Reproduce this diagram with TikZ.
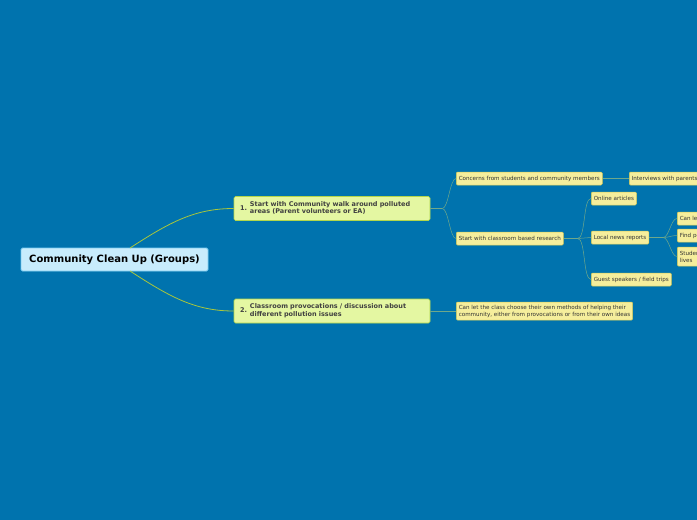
\documentclass[tikz,border=0pt]{standalone}
\usepackage{fontspec}
\setmainfont{DejaVu Sans}
\begin{document}
\begin{tikzpicture}[x=1pt,y=-1pt,
 rootbox/.style={draw=cRootB,fill=cRoot,rounded corners=1.5pt,line width=0.8pt,minimum width=187pt,minimum height=23pt,font=\fontsize{10}{12}\selectfont\bfseries,inner sep=2pt},
 brbox/.style={draw=cBrB,fill=cBr,rounded corners=1.5pt,line width=0.6pt,minimum width=196pt,minimum height=24pt,font=\fontsize{6.5}{7.5}\selectfont\bfseries,text=black!75,inner sep=2pt},
 leaf/.style={draw=cLfB,fill=cLf,rounded corners=1.2pt,line width=0.5pt,minimum height=13pt,font=\fontsize{5.6}{7}\selectfont,text=black!80,inner sep=2.5pt,anchor=west},
 main/.style={draw=cMain,line width=0.8pt},
 sub/.style={draw=cSub,line width=0.5pt}]
\definecolor{cBg}{HTML}{0073AE}
\definecolor{cRoot}{HTML}{C8ECFC}
\definecolor{cRootB}{HTML}{7DCDF2}
\definecolor{cBr}{HTML}{E4F7A2}
\definecolor{cBrB}{HTML}{B3D64A}
\definecolor{cLf}{HTML}{F5EE9C}
\definecolor{cLfB}{HTML}{D6CC58}
\definecolor{cMain}{HTML}{A9C63C}
\definecolor{cSub}{HTML}{6FA88A}
\fill[cBg] (0,0) rectangle (697,520);
\useasboundingbox (0,0) rectangle (697,520);
\clip (0,0) rectangle (697,520);
\node[rootbox] (root) at (114.5,259.5) {Community Clean Up (Groups)};
\node[brbox,align=left,text width=190pt] (b1) at (332,208.5) {\hspace{3pt}1.\hspace{3pt}\begin{tabular}[c]{@{}l@{}}Start with Community walk around polluted\\areas (Parent volunteers or EA)\end{tabular}};
\node[brbox,align=left,text width=190pt] (b2) at (332,311) {\hspace{3pt}2.\hspace{3pt}\begin{tabular}[c]{@{}l@{}}Classroom provocations / discussion about\\different pollution issues\end{tabular}};
\node[leaf] (c1) at (456,178.5) {Concerns from students and community members};
\node[leaf] (c2) at (456,238.5) {Start with classroom based research};
\node[leaf,align=left,minimum height=18pt] (c3) at (456,311) {Can let the class choose their own methods of helping their\\community, either from provocations or from their own ideas};
\node[leaf] (i1) at (629,178.5) {Interviews with parents};
\node[leaf] (d1) at (591,198.5) {Online articles};
\node[leaf] (d2) at (591,237.5) {Local news reports};
\node[leaf] (d3) at (591,279.5) {Guest speakers / field trips};
\node[leaf] (e1) at (677,218.5) {Can learn};
\node[leaf] (e2) at (677,235.5) {Find pollution};
\node[leaf,align=left,minimum height=19pt] (e3) at (677,256.5) {Students\\lives};
\draw[main] (130,248) .. controls (170,222) and (195,208.5) .. (b1.west);
\draw[main] (130,271) .. controls (170,297) and (195,311) .. (b2.west);
\draw[sub] (b1.east) -- ++(12,0) coordinate (k1);
\draw[sub] (k1) .. controls ++(6,0) and ++(-6,0) .. (c1.west);
\draw[sub] (k1) .. controls ++(6,0) and ++(-6,0) .. (c2.west);
\draw[sub] (b2.east) -- (c3.west);
\draw[sub] (c1.east) -- (i1.west);
\draw[sub] (c2.east) -- ++(14,0) coordinate (k2);
\draw[sub] (k2) .. controls ++(8,0) and ++(-8,0) .. (d1.west);
\draw[sub] (k2) -- (d2.west);
\draw[sub] (k2) .. controls ++(8,0) and ++(-8,0) .. (d3.west);
\draw[sub] (d2.east) -- ++(14,0) coordinate (k3);
\draw[sub] (k3) .. controls ++(6,0) and ++(-6,0) .. (e1.west);
\draw[sub] (k3) .. controls ++(6,0) and ++(-6,0) .. (e2.west);
\draw[sub] (k3) .. controls ++(6,0) and ++(-6,0) .. (e3.west);
\end{tikzpicture}
\end{document}
